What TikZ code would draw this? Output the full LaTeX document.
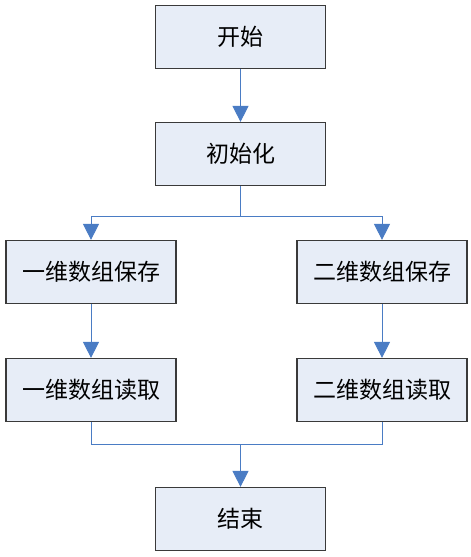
\documentclass[tikz,border=0pt]{standalone}
\usepackage{fontspec}
\setmainfont{Noto Sans CJK SC}
\usetikzlibrary{arrows.meta}
\definecolor{boxfill}{HTML}{E7EDF7}
\definecolor{boxline}{HTML}{3A3A3A}
\definecolor{flowline}{HTML}{4A7CC4}
\tikzset{
    stepbox/.style={draw=boxline, fill=boxfill, line width=1.2pt,
        minimum width=170pt, minimum height=63pt, inner sep=0pt,
        font=\fontsize{23}{27}\selectfont},
    flow/.style={draw=flowline, line width=1pt,
        -{Triangle[width=16pt,length=16pt]}},
    flowjoin/.style={draw=flowline, line width=1pt}
}
\begin{document}
\begin{tikzpicture}[x=1pt, y=-1pt]
    \useasboundingbox (0,0) rectangle (471,557);

    % Boxes
    \node[stepbox] (start) at (240.5,37) {开始};
    \node[stepbox] (init)  at (240.5,154) {初始化};
    \node[stepbox] (save1) at (91,272) {一维数组保存};
    \node[stepbox] (read1) at (91,390) {一维数组读取};
    \node[stepbox] (save2) at (382,272) {二维数组保存};
    \node[stepbox] (read2) at (382,390) {二维数组读取};
    \node[stepbox] (stop)  at (240.5,519) {结束};

    % Branch and merge points
    \coordinate (split) at (240.5,216);
    \coordinate (merge) at (240.5,444);

    % Connectors
    \draw[flow] (start) -- (init);
    \draw[flowjoin] (init) -- (split);
    \draw[flow] (split) -| (save1);
    \draw[flow] (split) -| (save2);
    \draw[flow] (save1) -- (read1);
    \draw[flow] (save2) -- (read2);
    \draw[flowjoin] (read1) |- (merge);
    \draw[flowjoin] (read2) |- (merge);
    \draw[flow] (merge) -- (stop);
\end{tikzpicture}
\end{document}
